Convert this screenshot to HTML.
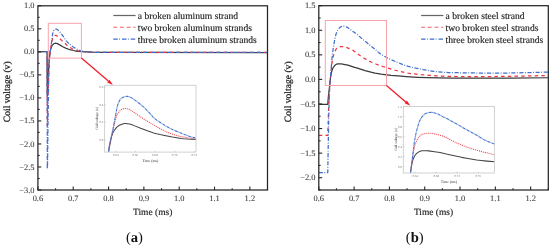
<!DOCTYPE html>
<html><head><meta charset="utf-8"><title>Coil voltage</title>
<style>html,body{margin:0;padding:0;background:#fff;}svg{display:block;}text{text-rendering:geometricPrecision;}.t{stroke:#222;stroke-width:0.15px;}.k{stroke:#3a3a3a;stroke-width:0.08px;}</style></head>
<body><svg width="550" height="246" viewBox="0 0 550 246">
<rect width="550" height="246" fill="#fff"/>
<clipPath id="ca"><rect x="37.9" y="5.8" width="229.6" height="184.2"/></clipPath>
<g clip-path="url(#ca)" fill="none" stroke-linejoin="round">
<path d="M37.90 51.50 L47.12 51.50 L47.30 95.60 L47.47 94.55 L47.62 92.63 L48.14 77.18 L48.77 65.87 L49.42 58.11 L50.30 51.23 L50.61 49.49 L50.97 48.17 L51.45 46.89 L52.06 45.71 L52.60 44.94 L53.44 44.08 L54.36 43.53 L55.05 43.27 L55.43 43.24 L56.12 43.30 L57.04 43.48 L57.42 43.63 L62.86 46.78 L64.62 47.67 L66.07 48.30 L68.91 49.28 L73.35 50.51 L75.95 51.08 L78.48 51.38 L82.23 51.66 L92.41 52.24 L100.07 52.42 L108.03 52.49 L267.50 52.50" stroke="#3a3a3a" stroke-width="1.25"/>
<path d="M37.90 51.50 L47.12 51.50 L47.30 125.53 L47.47 123.86 L47.62 120.74 L48.08 96.06 L48.54 79.09 L49.08 64.48 L49.42 58.11 L49.77 55.01 L51.04 46.55 L51.76 42.24 L52.29 39.55 L52.83 37.91 L53.44 36.67 L53.82 36.18 L54.21 35.82 L54.97 35.44 L55.38 35.36 L55.89 35.45 L56.73 35.78 L57.19 36.08 L57.88 36.69 L60.48 39.31 L62.40 41.14 L67.07 45.16 L68.14 46.04 L69.60 47.10 L71.82 48.46 L73.19 49.15 L74.65 49.74 L76.10 50.22 L78.02 50.74 L80.85 51.33 L85.06 51.81 L89.58 52.11 L93.33 52.28 L107.03 52.49 L267.50 52.50" stroke="#f0323c" stroke-width="1.25" stroke-dasharray="3.5 3.2"/>
<path d="M37.90 51.50 L47.12 51.50 L47.30 168.82 L47.47 165.90 L47.62 160.41 L48.08 116.42 L48.47 92.40 L48.92 72.09 L49.15 64.09 L49.38 58.57 L49.84 53.92 L50.53 49.65 L52.68 33.78 L53.14 31.96 L53.59 30.84 L54.21 29.96 L54.82 29.44 L55.66 29.11 L56.27 29.07 L56.66 29.20 L57.35 29.57 L57.96 30.06 L60.03 32.24 L62.17 34.81 L63.93 37.34 L65.31 39.68 L66.30 40.94 L67.45 42.15 L69.44 43.99 L70.67 45.07 L71.74 45.90 L72.89 46.67 L76.72 48.96 L79.62 50.39 L80.70 50.77 L82.07 51.11 L83.76 51.42 L85.59 51.67 L89.73 52.06 L93.25 52.27 L106.50 52.49 L267.50 52.50" stroke="#3f6fcc" stroke-width="1.25" stroke-dasharray="4.1 1.5 0.9 1.6"/>
</g>
<rect x="48.30" y="23.30" width="33.10" height="34.80" fill="none" stroke="#f7a3aa" stroke-width="1"/>
<line x1="81.40" y1="58.10" x2="108.33" y2="81.01" stroke="#f01e28" stroke-width="1.3"/>
<polygon points="112.90,84.90 107.16,82.38 109.50,79.64" fill="#f01e28"/>
<rect x="104.6" y="85.3" width="91.4" height="66.8" fill="#fff"/>
<clipPath id="cai"><rect x="104.6" y="85.3" width="91.4" height="66.8"/></clipPath>
<g clip-path="url(#cai)" fill="none" stroke-linejoin="round">
<path d="M102.64 223.84 L102.73 223.75 L102.83 223.48 L103.07 222.20 L103.45 219.20 L103.64 216.89 L103.97 210.68 L104.88 190.40 L105.88 176.40 L106.50 169.30 L107.12 163.13 L107.79 157.36 L108.46 152.45 L109.22 147.79 L110.13 143.06 L111.22 137.75 L111.94 135.18 L112.89 132.84 L114.04 130.72 L115.61 128.57 L116.37 127.70 L117.13 126.96 L118.61 125.80 L119.95 124.99 L121.90 124.19 L123.43 123.72 L124.53 123.53 L125.67 123.52 L127.34 123.65 L129.53 123.95 L130.44 124.16 L131.44 124.50 L134.11 125.64 L140.74 128.33 L148.03 131.09 L151.09 132.12 L153.61 132.89 L156.71 133.72 L160.10 134.54 L164.49 135.47 L172.45 136.99 L181.22 138.41 L183.56 138.68 L187.66 139.01 L197.96 139.58" stroke="#444" stroke-width="1.05"/>
<path d="M102.64 281.20 L102.73 281.05 L102.88 280.32 L103.12 278.07 L103.45 273.77 L103.64 269.84 L103.97 259.00 L104.88 222.80 L105.98 194.88 L106.60 181.94 L107.36 168.09 L107.88 159.48 L108.31 153.95 L108.79 150.07 L109.41 146.50 L110.70 140.86 L112.84 130.72 L114.32 124.38 L115.51 119.75 L116.61 116.16 L116.90 115.43 L117.47 114.27 L118.61 112.32 L119.61 111.02 L120.66 110.06 L121.95 109.23 L123.24 108.76 L124.53 108.46 L125.58 108.44 L126.86 108.66 L128.82 109.22 L130.06 109.76 L131.49 110.60 L141.17 117.28 L144.70 119.57 L147.94 121.57 L159.77 128.47 L163.72 130.51 L167.06 132.06 L170.49 133.44 L173.74 134.59 L176.88 135.52 L180.46 136.42 L184.51 137.27 L190.00 138.24 L194.00 138.81 L197.96 139.23" stroke="#f04650" stroke-width="1.05" stroke-dasharray="1.1 0.9"/>
<path d="M102.64 364.15 L102.73 363.88 L102.88 362.61 L103.12 358.68 L103.45 351.14 L103.64 344.14 L103.97 324.62 L104.83 263.14 L105.79 221.42 L106.79 188.58 L107.60 167.95 L108.12 157.24 L108.36 153.75 L108.65 150.93 L109.12 147.37 L109.65 144.30 L110.13 142.04 L111.75 135.19 L117.09 107.39 L117.66 105.10 L118.61 102.42 L119.52 100.66 L120.04 99.86 L120.57 99.21 L122.05 97.90 L122.71 97.46 L123.33 97.14 L125.53 96.50 L126.39 96.37 L127.20 96.33 L127.86 96.41 L128.58 96.59 L130.82 97.44 L132.44 98.39 L136.59 101.36 L140.30 104.27 L143.41 106.89 L145.84 109.15 L148.42 111.77 L150.37 113.91 L152.66 116.70 L154.95 118.74 L156.71 120.10 L158.67 121.46 L165.68 125.92 L169.02 127.85 L171.97 129.32 L184.56 134.58 L189.19 136.20 L192.48 137.24 L195.05 137.89 L197.96 138.40" stroke="#4577d0" stroke-width="1.1" stroke-dasharray="3.0 0.5 0.7 0.5"/>
</g>
<rect x="104.6" y="85.3" width="91.4" height="66.8" fill="none" stroke="#cdcdcd" stroke-width="0.9"/>
<line x1="115.78" y1="152.10" x2="115.78" y2="150.90" stroke="#b8b8b8" stroke-width="0.6"/>
<text x="115.78" y="156.30" font-size="3.2" fill="#6a6a6a" text-anchor="middle" font-family="'Liberation Serif', serif">0.64</text>
<line x1="135.39" y1="152.10" x2="135.39" y2="150.90" stroke="#b8b8b8" stroke-width="0.6"/>
<text x="135.39" y="156.30" font-size="3.2" fill="#6a6a6a" text-anchor="middle" font-family="'Liberation Serif', serif">0.66</text>
<line x1="155.01" y1="152.10" x2="155.01" y2="150.90" stroke="#b8b8b8" stroke-width="0.6"/>
<text x="155.01" y="156.30" font-size="3.2" fill="#6a6a6a" text-anchor="middle" font-family="'Liberation Serif', serif">0.68</text>
<line x1="174.62" y1="152.10" x2="174.62" y2="150.90" stroke="#b8b8b8" stroke-width="0.6"/>
<text x="174.62" y="156.30" font-size="3.2" fill="#6a6a6a" text-anchor="middle" font-family="'Liberation Serif', serif">0.70</text>
<line x1="194.23" y1="152.10" x2="194.23" y2="150.90" stroke="#b8b8b8" stroke-width="0.6"/>
<text x="194.23" y="156.30" font-size="3.2" fill="#6a6a6a" text-anchor="middle" font-family="'Liberation Serif', serif">0.72</text>
<line x1="104.60" y1="140.01" x2="105.80" y2="140.01" stroke="#b8b8b8" stroke-width="0.6"/>
<text x="103.40" y="141.11" font-size="3.2" fill="#6a6a6a" text-anchor="end" font-family="'Liberation Serif', serif">0.0</text>
<line x1="104.60" y1="122.36" x2="105.80" y2="122.36" stroke="#b8b8b8" stroke-width="0.6"/>
<text x="103.40" y="123.46" font-size="3.2" fill="#6a6a6a" text-anchor="end" font-family="'Liberation Serif', serif">0.2</text>
<line x1="104.60" y1="104.71" x2="105.80" y2="104.71" stroke="#b8b8b8" stroke-width="0.6"/>
<text x="103.40" y="105.81" font-size="3.2" fill="#6a6a6a" text-anchor="end" font-family="'Liberation Serif', serif">0.4</text>
<line x1="104.60" y1="87.06" x2="105.80" y2="87.06" stroke="#b8b8b8" stroke-width="0.6"/>
<text x="103.40" y="88.16" font-size="3.2" fill="#6a6a6a" text-anchor="end" font-family="'Liberation Serif', serif">0.6</text>
<text x="150.30" y="162.10" font-size="3.9" fill="#333" text-anchor="middle" font-family="'Liberation Serif', serif">Time (ms)</text>
<text transform="translate(98.00,118.40) rotate(-90)" font-size="3.6" fill="#333" text-anchor="middle" font-family="'Liberation Serif', serif">Coil voltage (v)</text>
<rect x="37.9" y="5.8" width="229.6" height="184.2" fill="none" stroke="#262626" stroke-width="1.25"/>
<line x1="37.90" y1="190.00" x2="41.30" y2="190.00" stroke="#262626" stroke-width="1.1"/>
<text x="34.50" y="192.55" font-size="8.4" fill="#3a3a3a" class="k" text-anchor="end" font-family="'Liberation Serif', serif">−3.0</text>
<line x1="37.90" y1="178.49" x2="39.70" y2="178.49" stroke="#262626" stroke-width="1.1"/>
<line x1="37.90" y1="166.97" x2="41.30" y2="166.97" stroke="#262626" stroke-width="1.1"/>
<text x="34.50" y="169.53" font-size="8.4" fill="#3a3a3a" class="k" text-anchor="end" font-family="'Liberation Serif', serif">−2.5</text>
<line x1="37.90" y1="155.46" x2="39.70" y2="155.46" stroke="#262626" stroke-width="1.1"/>
<line x1="37.90" y1="143.95" x2="41.30" y2="143.95" stroke="#262626" stroke-width="1.1"/>
<text x="34.50" y="146.50" font-size="8.4" fill="#3a3a3a" class="k" text-anchor="end" font-family="'Liberation Serif', serif">−2.0</text>
<line x1="37.90" y1="132.44" x2="39.70" y2="132.44" stroke="#262626" stroke-width="1.1"/>
<line x1="37.90" y1="120.92" x2="41.30" y2="120.92" stroke="#262626" stroke-width="1.1"/>
<text x="34.50" y="123.47" font-size="8.4" fill="#3a3a3a" class="k" text-anchor="end" font-family="'Liberation Serif', serif">−1.5</text>
<line x1="37.90" y1="109.41" x2="39.70" y2="109.41" stroke="#262626" stroke-width="1.1"/>
<line x1="37.90" y1="97.90" x2="41.30" y2="97.90" stroke="#262626" stroke-width="1.1"/>
<text x="34.50" y="100.45" font-size="8.4" fill="#3a3a3a" class="k" text-anchor="end" font-family="'Liberation Serif', serif">−1.0</text>
<line x1="37.90" y1="86.39" x2="39.70" y2="86.39" stroke="#262626" stroke-width="1.1"/>
<line x1="37.90" y1="74.87" x2="41.30" y2="74.87" stroke="#262626" stroke-width="1.1"/>
<text x="34.50" y="77.42" font-size="8.4" fill="#3a3a3a" class="k" text-anchor="end" font-family="'Liberation Serif', serif">−0.5</text>
<line x1="37.90" y1="63.36" x2="39.70" y2="63.36" stroke="#262626" stroke-width="1.1"/>
<line x1="37.90" y1="51.85" x2="41.30" y2="51.85" stroke="#262626" stroke-width="1.1"/>
<text x="34.50" y="54.40" font-size="8.4" fill="#3a3a3a" class="k" text-anchor="end" font-family="'Liberation Serif', serif">0.0</text>
<line x1="37.90" y1="40.34" x2="39.70" y2="40.34" stroke="#262626" stroke-width="1.1"/>
<line x1="37.90" y1="28.82" x2="41.30" y2="28.82" stroke="#262626" stroke-width="1.1"/>
<text x="34.50" y="31.38" font-size="8.4" fill="#3a3a3a" class="k" text-anchor="end" font-family="'Liberation Serif', serif">0.5</text>
<line x1="37.90" y1="17.31" x2="39.70" y2="17.31" stroke="#262626" stroke-width="1.1"/>
<line x1="37.90" y1="5.80" x2="41.30" y2="5.80" stroke="#262626" stroke-width="1.1"/>
<text x="34.50" y="8.35" font-size="8.4" fill="#3a3a3a" class="k" text-anchor="end" font-family="'Liberation Serif', serif">1.0</text>
<line x1="37.90" y1="190.00" x2="37.90" y2="186.60" stroke="#262626" stroke-width="1.1"/>
<text x="37.90" y="200.50" font-size="8.4" fill="#3a3a3a" class="k" text-anchor="middle" font-family="'Liberation Serif', serif">0.6</text>
<line x1="55.56" y1="190.00" x2="55.56" y2="188.20" stroke="#262626" stroke-width="1.1"/>
<line x1="73.22" y1="190.00" x2="73.22" y2="186.60" stroke="#262626" stroke-width="1.1"/>
<text x="73.22" y="200.50" font-size="8.4" fill="#3a3a3a" class="k" text-anchor="middle" font-family="'Liberation Serif', serif">0.7</text>
<line x1="90.88" y1="190.00" x2="90.88" y2="188.20" stroke="#262626" stroke-width="1.1"/>
<line x1="108.55" y1="190.00" x2="108.55" y2="186.60" stroke="#262626" stroke-width="1.1"/>
<text x="108.55" y="200.50" font-size="8.4" fill="#3a3a3a" class="k" text-anchor="middle" font-family="'Liberation Serif', serif">0.8</text>
<line x1="126.21" y1="190.00" x2="126.21" y2="188.20" stroke="#262626" stroke-width="1.1"/>
<line x1="143.87" y1="190.00" x2="143.87" y2="186.60" stroke="#262626" stroke-width="1.1"/>
<text x="143.87" y="200.50" font-size="8.4" fill="#3a3a3a" class="k" text-anchor="middle" font-family="'Liberation Serif', serif">0.9</text>
<line x1="161.53" y1="190.00" x2="161.53" y2="188.20" stroke="#262626" stroke-width="1.1"/>
<line x1="179.19" y1="190.00" x2="179.19" y2="186.60" stroke="#262626" stroke-width="1.1"/>
<text x="179.19" y="200.50" font-size="8.4" fill="#3a3a3a" class="k" text-anchor="middle" font-family="'Liberation Serif', serif">1.0</text>
<line x1="196.85" y1="190.00" x2="196.85" y2="188.20" stroke="#262626" stroke-width="1.1"/>
<line x1="214.52" y1="190.00" x2="214.52" y2="186.60" stroke="#262626" stroke-width="1.1"/>
<text x="214.52" y="200.50" font-size="8.4" fill="#3a3a3a" class="k" text-anchor="middle" font-family="'Liberation Serif', serif">1.1</text>
<line x1="232.18" y1="190.00" x2="232.18" y2="188.20" stroke="#262626" stroke-width="1.1"/>
<line x1="249.84" y1="190.00" x2="249.84" y2="186.60" stroke="#262626" stroke-width="1.1"/>
<text x="249.84" y="200.50" font-size="8.4" fill="#3a3a3a" class="k" text-anchor="middle" font-family="'Liberation Serif', serif">1.2</text>
<line x1="267.50" y1="190.00" x2="267.50" y2="188.20" stroke="#262626" stroke-width="1.1"/>
<line x1="113.30" y1="15.50" x2="135.60" y2="15.50" stroke="#666" stroke-width="1.25" />
<text x="137.80" y="19.10" font-size="9.58" fill="#222" class="t" font-family="'Liberation Serif', serif">a broken aluminum strand</text>
<line x1="113.30" y1="27.30" x2="135.60" y2="27.30" stroke="#f4626a" stroke-width="1.1" stroke-dasharray="3.9 2.8" />
<text x="137.80" y="30.90" font-size="9.58" fill="#222" class="t" font-family="'Liberation Serif', serif">two broken aluminum strands</text>
<line x1="113.30" y1="39.10" x2="135.60" y2="39.10" stroke="#3f6fcc" stroke-width="1.05" stroke-dasharray="4.5 1.4 0.8 2.0" />
<text x="137.80" y="42.70" font-size="9.58" fill="#222" class="t" font-family="'Liberation Serif', serif">three broken aluminum strands</text>
<text x="152.70" y="214.80" font-size="9.45" fill="#222" class="t" text-anchor="middle" font-family="'Liberation Serif', serif">Time (ms)</text>
<text transform="translate(10.30,91.80) rotate(-90)" font-size="9.6" fill="#1a1a1a" stroke="#1a1a1a" stroke-width="0.25" text-anchor="middle" font-family="'Liberation Serif', serif">Coil voltage (v)</text>
<text x="134.40" y="241.70" font-size="14.6" fill="#111" text-anchor="middle" font-family="'Liberation Serif', serif">(<tspan font-weight="bold">a</tspan>)</text>
<clipPath id="cb"><rect x="318.8" y="5.7" width="229.5" height="184.3"/></clipPath>
<g clip-path="url(#cb)" fill="none" stroke-linejoin="round">
<path d="M318.80 104.48 L327.77 104.48 L327.98 101.03 L328.37 96.74 L329.67 85.57 L330.43 78.24 L330.89 75.09 L331.43 72.49 L331.96 70.51 L332.42 69.20 L333.11 67.77 L333.80 66.66 L334.72 65.56 L335.64 64.72 L336.86 64.05 L337.70 63.80 L340.15 63.79 L341.22 63.88 L345.05 64.56 L347.96 65.21 L350.10 65.82 L354.69 67.42 L358.29 68.47 L365.10 70.62 L370.91 72.17 L375.05 73.08 L381.09 74.03 L390.96 75.26 L398.16 75.98 L406.12 76.60 L417.90 77.26 L427.24 77.65 L438.64 77.95 L454.25 78.17 L488.53 78.18 L548.30 77.75" stroke="#3a3a3a" stroke-width="1.25"/>
<path d="M318.80 135.45 L327.77 135.45 L328.52 110.86 L328.98 99.80 L329.44 90.63 L329.97 83.03 L330.73 75.49 L331.50 66.67 L331.81 64.01 L332.42 59.89 L332.96 57.21 L333.80 54.23 L334.79 51.66 L335.87 49.53 L336.25 48.96 L336.71 48.43 L337.24 47.97 L337.78 47.63 L338.70 47.17 L339.54 46.88 L340.69 46.69 L341.91 46.60 L342.75 46.61 L343.59 46.73 L344.74 47.01 L347.42 47.81 L348.87 48.34 L350.41 49.00 L352.09 49.84 L353.16 50.49 L354.46 51.43 L357.60 53.89 L360.66 56.06 L363.11 57.68 L366.48 59.70 L368.77 60.93 L370.99 61.98 L375.96 64.04 L378.95 65.20 L382.70 66.51 L387.14 67.91 L392.03 69.37 L396.24 70.51 L400.91 71.68 L404.20 72.41 L407.72 73.04 L411.78 73.65 L416.37 74.21 L421.57 74.74 L435.58 75.81 L439.86 76.04 L446.60 76.27 L459.45 76.58 L485.01 76.62 L493.05 76.56 L522.36 76.09 L548.30 75.49" stroke="#f0323c" stroke-width="1.25" stroke-dasharray="3.5 3.2"/>
<path d="M318.80 172.50 L327.77 172.50 L328.67 119.18 L329.36 94.54 L329.59 88.84 L329.90 83.46 L331.20 68.66 L331.96 58.78 L332.65 52.39 L333.49 46.43 L334.79 39.26 L335.71 35.21 L336.32 33.27 L336.86 31.83 L337.32 30.81 L337.85 29.90 L338.77 28.57 L339.54 27.70 L340.23 27.15 L341.15 26.70 L341.99 26.37 L342.75 26.17 L343.44 26.10 L344.13 26.15 L344.90 26.34 L345.89 26.71 L347.34 27.37 L348.26 27.92 L351.71 30.66 L354.54 32.58 L355.99 33.69 L367.32 43.06 L374.66 49.00 L379.03 52.85 L381.32 54.44 L384.08 56.08 L387.60 57.94 L391.42 59.77 L398.23 62.72 L402.44 64.43 L405.12 65.39 L408.26 66.33 L411.78 67.26 L415.76 68.18 L423.03 69.61 L430.14 70.83 L433.66 71.36 L438.10 71.85 L441.93 72.21 L444.91 72.40 L448.51 72.52 L456.93 72.71 L480.04 73.06 L505.83 73.03 L514.17 72.93 L528.79 72.60 L548.30 72.05" stroke="#3f6fcc" stroke-width="1.25" stroke-dasharray="4.1 1.5 0.9 1.6"/>
</g>
<rect x="325.30" y="20.50" width="61.20" height="65.00" fill="none" stroke="#f7a3aa" stroke-width="1"/>
<line x1="386.50" y1="85.50" x2="405.73" y2="101.91" stroke="#f01e28" stroke-width="1.3"/>
<polygon points="410.30,105.80 404.57,103.28 406.90,100.54" fill="#f01e28"/>
<rect x="403.3" y="106.5" width="91.1" height="66.5" fill="#fff"/>
<clipPath id="cbi"><rect x="403.3" y="106.5" width="91.1" height="66.5"/></clipPath>
<g clip-path="url(#cbi)" fill="none" stroke-linejoin="round">
<path d="M402.25 192.16 L407.61 192.15 L407.87 189.16 L408.17 186.58 L409.29 179.26 L410.46 172.69 L411.71 164.55 L412.23 162.26 L412.83 160.16 L413.53 158.25 L414.23 156.70 L415.03 155.43 L415.96 154.24 L417.03 153.19 L418.48 152.11 L419.55 151.51 L420.95 151.00 L421.74 150.78 L422.44 150.69 L426.59 150.70 L428.59 150.88 L434.61 151.65 L440.01 152.58 L447.38 154.33 L453.02 155.46 L461.69 157.36 L466.59 158.32 L472.28 159.31 L476.75 160.01 L481.23 160.55 L487.01 161.14 L495.45 161.88" stroke="#444" stroke-width="1.05"/>
<path d="M402.25 223.72 L407.61 223.70 L408.03 212.86 L408.68 199.30 L409.29 189.07 L409.99 179.20 L410.41 174.41 L410.78 171.05 L412.01 162.61 L413.21 153.26 L413.77 150.10 L414.51 146.74 L415.16 144.42 L415.91 142.41 L416.94 140.20 L418.10 138.23 L419.50 136.31 L420.11 135.65 L420.67 135.19 L421.37 134.73 L422.07 134.37 L424.35 133.61 L425.70 133.36 L428.59 133.16 L430.13 133.19 L431.90 133.41 L436.05 134.22 L438.38 134.77 L441.79 135.78 L444.82 136.89 L447.06 137.96 L452.18 140.72 L457.96 143.49 L463.28 145.77 L468.13 147.62 L473.16 149.22 L482.54 151.83 L488.32 153.24 L495.45 154.80" stroke="#f04650" stroke-width="1.05" stroke-dasharray="1.1 0.9"/>
<path d="M402.25 261.49 L407.61 261.47 L409.06 203.59 L409.94 182.53 L410.36 175.46 L410.74 171.03 L412.69 155.69 L413.91 145.06 L414.65 140.24 L415.49 135.81 L416.19 132.65 L416.94 129.66 L418.10 125.48 L418.89 122.94 L419.50 121.33 L420.39 119.44 L421.18 118.00 L421.97 116.84 L423.74 114.98 L424.54 114.30 L425.28 113.77 L426.40 113.23 L428.92 112.50 L430.60 112.27 L432.18 112.35 L434.00 112.74 L436.94 113.64 L438.90 114.54 L443.28 116.96 L447.33 118.84 L449.43 119.94 L466.40 129.56 L477.27 135.59 L479.13 136.68 L482.54 138.82 L483.98 139.64 L486.31 140.76 L488.88 141.87 L491.81 143.02 L495.45 144.35" stroke="#4577d0" stroke-width="1.1" stroke-dasharray="3.0 0.5 0.7 0.5"/>
</g>
<rect x="403.3" y="106.5" width="91.1" height="66.5" fill="none" stroke="#cdcdcd" stroke-width="0.9"/>
<line x1="415.26" y1="173.00" x2="415.26" y2="171.80" stroke="#b8b8b8" stroke-width="0.6"/>
<text x="415.26" y="177.20" font-size="3.2" fill="#6a6a6a" text-anchor="middle" font-family="'Liberation Serif', serif">0.64</text>
<line x1="436.26" y1="173.00" x2="436.26" y2="171.80" stroke="#b8b8b8" stroke-width="0.6"/>
<text x="436.26" y="177.20" font-size="3.2" fill="#6a6a6a" text-anchor="middle" font-family="'Liberation Serif', serif">0.68</text>
<line x1="457.25" y1="173.00" x2="457.25" y2="171.80" stroke="#b8b8b8" stroke-width="0.6"/>
<text x="457.25" y="177.20" font-size="3.2" fill="#6a6a6a" text-anchor="middle" font-family="'Liberation Serif', serif">0.72</text>
<line x1="478.24" y1="173.00" x2="478.24" y2="171.80" stroke="#b8b8b8" stroke-width="0.6"/>
<text x="478.24" y="177.20" font-size="3.2" fill="#6a6a6a" text-anchor="middle" font-family="'Liberation Serif', serif">0.76</text>
<line x1="403.30" y1="166.61" x2="404.50" y2="166.61" stroke="#b8b8b8" stroke-width="0.6"/>
<text x="402.10" y="167.71" font-size="3.2" fill="#6a6a6a" text-anchor="end" font-family="'Liberation Serif', serif">0.0</text>
<line x1="403.30" y1="156.59" x2="404.50" y2="156.59" stroke="#b8b8b8" stroke-width="0.6"/>
<text x="402.10" y="157.69" font-size="3.2" fill="#6a6a6a" text-anchor="end" font-family="'Liberation Serif', serif">0.2</text>
<line x1="403.30" y1="146.58" x2="404.50" y2="146.58" stroke="#b8b8b8" stroke-width="0.6"/>
<text x="402.10" y="147.68" font-size="3.2" fill="#6a6a6a" text-anchor="end" font-family="'Liberation Serif', serif">0.4</text>
<line x1="403.30" y1="136.56" x2="404.50" y2="136.56" stroke="#b8b8b8" stroke-width="0.6"/>
<text x="402.10" y="137.66" font-size="3.2" fill="#6a6a6a" text-anchor="end" font-family="'Liberation Serif', serif">0.6</text>
<line x1="403.30" y1="126.54" x2="404.50" y2="126.54" stroke="#b8b8b8" stroke-width="0.6"/>
<text x="402.10" y="127.64" font-size="3.2" fill="#6a6a6a" text-anchor="end" font-family="'Liberation Serif', serif">0.8</text>
<line x1="403.30" y1="116.52" x2="404.50" y2="116.52" stroke="#b8b8b8" stroke-width="0.6"/>
<text x="402.10" y="117.62" font-size="3.2" fill="#6a6a6a" text-anchor="end" font-family="'Liberation Serif', serif">1.0</text>
<line x1="403.30" y1="106.50" x2="404.50" y2="106.50" stroke="#b8b8b8" stroke-width="0.6"/>
<text x="402.10" y="107.60" font-size="3.2" fill="#6a6a6a" text-anchor="end" font-family="'Liberation Serif', serif">1.2</text>
<text x="448.85" y="183.00" font-size="3.9" fill="#333" text-anchor="middle" font-family="'Liberation Serif', serif">Time (ms)</text>
<text transform="translate(396.70,139.45) rotate(-90)" font-size="3.6" fill="#333" text-anchor="middle" font-family="'Liberation Serif', serif">Coil voltage (v)</text>
<rect x="318.8" y="5.7" width="229.5" height="184.3" fill="none" stroke="#262626" stroke-width="1.25"/>
<line x1="318.80" y1="190.00" x2="320.60" y2="190.00" stroke="#262626" stroke-width="1.1"/>
<line x1="318.80" y1="177.71" x2="322.20" y2="177.71" stroke="#262626" stroke-width="1.1"/>
<text x="315.40" y="180.26" font-size="8.4" fill="#3a3a3a" class="k" text-anchor="end" font-family="'Liberation Serif', serif">−2.0</text>
<line x1="318.80" y1="165.43" x2="320.60" y2="165.43" stroke="#262626" stroke-width="1.1"/>
<line x1="318.80" y1="153.14" x2="322.20" y2="153.14" stroke="#262626" stroke-width="1.1"/>
<text x="315.40" y="155.69" font-size="8.4" fill="#3a3a3a" class="k" text-anchor="end" font-family="'Liberation Serif', serif">−1.5</text>
<line x1="318.80" y1="140.85" x2="320.60" y2="140.85" stroke="#262626" stroke-width="1.1"/>
<line x1="318.80" y1="128.57" x2="322.20" y2="128.57" stroke="#262626" stroke-width="1.1"/>
<text x="315.40" y="131.12" font-size="8.4" fill="#3a3a3a" class="k" text-anchor="end" font-family="'Liberation Serif', serif">−1.0</text>
<line x1="318.80" y1="116.28" x2="320.60" y2="116.28" stroke="#262626" stroke-width="1.1"/>
<line x1="318.80" y1="103.99" x2="322.20" y2="103.99" stroke="#262626" stroke-width="1.1"/>
<text x="315.40" y="106.54" font-size="8.4" fill="#3a3a3a" class="k" text-anchor="end" font-family="'Liberation Serif', serif">−0.5</text>
<line x1="318.80" y1="91.71" x2="320.60" y2="91.71" stroke="#262626" stroke-width="1.1"/>
<line x1="318.80" y1="79.42" x2="322.20" y2="79.42" stroke="#262626" stroke-width="1.1"/>
<text x="315.40" y="81.97" font-size="8.4" fill="#3a3a3a" class="k" text-anchor="end" font-family="'Liberation Serif', serif">0.0</text>
<line x1="318.80" y1="67.13" x2="320.60" y2="67.13" stroke="#262626" stroke-width="1.1"/>
<line x1="318.80" y1="54.85" x2="322.20" y2="54.85" stroke="#262626" stroke-width="1.1"/>
<text x="315.40" y="57.40" font-size="8.4" fill="#3a3a3a" class="k" text-anchor="end" font-family="'Liberation Serif', serif">0.5</text>
<line x1="318.80" y1="42.56" x2="320.60" y2="42.56" stroke="#262626" stroke-width="1.1"/>
<line x1="318.80" y1="30.27" x2="322.20" y2="30.27" stroke="#262626" stroke-width="1.1"/>
<text x="315.40" y="32.82" font-size="8.4" fill="#3a3a3a" class="k" text-anchor="end" font-family="'Liberation Serif', serif">1.0</text>
<line x1="318.80" y1="17.99" x2="320.60" y2="17.99" stroke="#262626" stroke-width="1.1"/>
<line x1="318.80" y1="5.70" x2="322.20" y2="5.70" stroke="#262626" stroke-width="1.1"/>
<text x="315.40" y="8.25" font-size="8.4" fill="#3a3a3a" class="k" text-anchor="end" font-family="'Liberation Serif', serif">1.5</text>
<line x1="318.80" y1="190.00" x2="318.80" y2="186.60" stroke="#262626" stroke-width="1.1"/>
<text x="318.80" y="200.50" font-size="8.4" fill="#3a3a3a" class="k" text-anchor="middle" font-family="'Liberation Serif', serif">0.6</text>
<line x1="336.45" y1="190.00" x2="336.45" y2="188.20" stroke="#262626" stroke-width="1.1"/>
<line x1="354.11" y1="190.00" x2="354.11" y2="186.60" stroke="#262626" stroke-width="1.1"/>
<text x="354.11" y="200.50" font-size="8.4" fill="#3a3a3a" class="k" text-anchor="middle" font-family="'Liberation Serif', serif">0.7</text>
<line x1="371.76" y1="190.00" x2="371.76" y2="188.20" stroke="#262626" stroke-width="1.1"/>
<line x1="389.42" y1="190.00" x2="389.42" y2="186.60" stroke="#262626" stroke-width="1.1"/>
<text x="389.42" y="200.50" font-size="8.4" fill="#3a3a3a" class="k" text-anchor="middle" font-family="'Liberation Serif', serif">0.8</text>
<line x1="407.07" y1="190.00" x2="407.07" y2="188.20" stroke="#262626" stroke-width="1.1"/>
<line x1="424.72" y1="190.00" x2="424.72" y2="186.60" stroke="#262626" stroke-width="1.1"/>
<text x="424.72" y="200.50" font-size="8.4" fill="#3a3a3a" class="k" text-anchor="middle" font-family="'Liberation Serif', serif">0.9</text>
<line x1="442.38" y1="190.00" x2="442.38" y2="188.20" stroke="#262626" stroke-width="1.1"/>
<line x1="460.03" y1="190.00" x2="460.03" y2="186.60" stroke="#262626" stroke-width="1.1"/>
<text x="460.03" y="200.50" font-size="8.4" fill="#3a3a3a" class="k" text-anchor="middle" font-family="'Liberation Serif', serif">1.0</text>
<line x1="477.68" y1="190.00" x2="477.68" y2="188.20" stroke="#262626" stroke-width="1.1"/>
<line x1="495.34" y1="190.00" x2="495.34" y2="186.60" stroke="#262626" stroke-width="1.1"/>
<text x="495.34" y="200.50" font-size="8.4" fill="#3a3a3a" class="k" text-anchor="middle" font-family="'Liberation Serif', serif">1.1</text>
<line x1="512.99" y1="190.00" x2="512.99" y2="188.20" stroke="#262626" stroke-width="1.1"/>
<line x1="530.65" y1="190.00" x2="530.65" y2="186.60" stroke="#262626" stroke-width="1.1"/>
<text x="530.65" y="200.50" font-size="8.4" fill="#3a3a3a" class="k" text-anchor="middle" font-family="'Liberation Serif', serif">1.2</text>
<line x1="548.30" y1="190.00" x2="548.30" y2="188.20" stroke="#262626" stroke-width="1.1"/>
<line x1="421.10" y1="15.50" x2="443.40" y2="15.50" stroke="#666" stroke-width="1.25" />
<text x="445.60" y="19.10" font-size="9.58" fill="#222" class="t" font-family="'Liberation Serif', serif">a broken steel strand</text>
<line x1="421.10" y1="27.30" x2="443.40" y2="27.30" stroke="#f4626a" stroke-width="1.1" stroke-dasharray="3.9 2.8" />
<text x="445.60" y="30.90" font-size="9.58" fill="#222" class="t" font-family="'Liberation Serif', serif">two broken steel strands</text>
<line x1="421.10" y1="39.10" x2="443.40" y2="39.10" stroke="#3f6fcc" stroke-width="1.05" stroke-dasharray="4.5 1.4 0.8 2.0" />
<text x="445.60" y="42.70" font-size="9.58" fill="#222" class="t" font-family="'Liberation Serif', serif">three broken steel strands</text>
<text x="433.55" y="214.80" font-size="9.45" fill="#222" class="t" text-anchor="middle" font-family="'Liberation Serif', serif">Time (ms)</text>
<text transform="translate(291.20,91.80) rotate(-90)" font-size="9.6" fill="#1a1a1a" stroke="#1a1a1a" stroke-width="0.25" text-anchor="middle" font-family="'Liberation Serif', serif">Coil voltage (v)</text>
<text x="414.80" y="241.70" font-size="14.6" fill="#111" text-anchor="middle" font-family="'Liberation Serif', serif">(<tspan font-weight="bold">b</tspan>)</text>
</svg></body></html>
